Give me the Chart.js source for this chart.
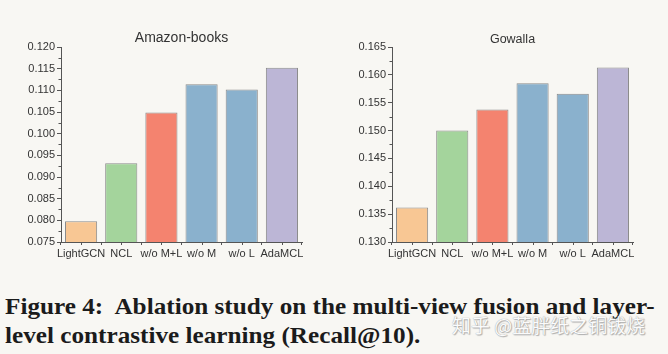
<!DOCTYPE html>
<html>
<head>
<meta charset="utf-8">
<script src="https://cdn.jsdelivr.net/npm/chart.js@4.4.1/dist/chart.umd.min.js"></script>
<style>
  html, body { margin: 0; padding: 0; background: #f8f7f3; }
  body { width: 668px; height: 354px; position: relative; overflow: hidden; }
  canvas { position: absolute; top: 0; }
  #amazon { left: 0; }
  #gowalla { left: 330px; }
  .caption {
    position: absolute; left: 5px; top: 292px;
    font-family: "Liberation Serif", "DejaVu Serif", serif;
    font-weight: bold; font-size: 24px; line-height: 29px;
    color: #1b1b1b; white-space: pre;
    transform: scaleX(1.05); transform-origin: left top;
  }
  .wm {
    position: absolute; left: 452px; top: 311px;
    font-family: "Noto Sans CJK SC", sans-serif; font-size: 19px;
    color: #fbfbfb; white-space: pre;
    text-shadow: 0 0 1px #8c8c8c, 1px 1px 1px #b0b0b0;
  }
</style>
</head>
<body>
<canvas id="amazon" width="320" height="275"></canvas>
<canvas id="gowalla" width="320" height="275"></canvas>
<div class="caption">Figure 4:  Ablation study on the multi-view fusion and layer-
level contrastive learning (Recall@10).</div>
<div class="wm">知乎 @蓝胖纸之铜钹烧</div>

<script>
// Données
const categories = ['LightGCN', 'NCL', 'w/o M+L', 'w/o M', 'w/o L', 'AdaMCL'];
const amazonRecall = [0.0798, 0.0932, 0.1049, 0.1114, 0.1102, 0.1152];
const gowallaRecall = [0.1362, 0.1500, 0.1538, 0.1585, 0.1566, 0.1613];
const amazonRange = [0.075, 0.120];
const gowallaRange = [0.130, 0.165];
const tickStep = 0.005;
const barColors = ['#f8c794', '#a4d49c', '#f4836f', '#8ab1cd', '#8ab1cd', '#bcb6d6'];

// Titre centré sur la zone du graphique + petites graduations
const panelExtras = {
  id: 'panelExtras',
  afterDraw(chart, args, opts) {
    const { ctx, chartArea, scales } = chart;
    ctx.save();
    ctx.fillStyle = '#333';
    ctx.font = opts.size + 'px "Liberation Sans", Arial, sans-serif';
    ctx.textAlign = 'center';
    ctx.textBaseline = 'middle';
    ctx.fillText(opts.text, (chartArea.left + chartArea.right) / 2, opts.y);

    ctx.strokeStyle = '#555';
    ctx.lineWidth = 1;
    ctx.beginPath();
    // graduations mineures sur l'axe Y
    const y = scales.y;
    for (let v = y.min + tickStep / 2; v < y.max; v += tickStep) {
      const py = Math.round(y.getPixelForValue(v)) + 0.5;
      ctx.moveTo(chartArea.left - 2.5, py);
      ctx.lineTo(chartArea.left, py);
    }
    // graduations au centre des barres
    const x = scales.x;
    categories.forEach((c, i) => {
      const px = Math.round(x.getPixelForValue(i)) + 0.5;
      ctx.moveTo(px, chartArea.bottom);
      ctx.lineTo(px, chartArea.bottom + 3);
    });
    ctx.stroke();
    ctx.restore();
  }
};

function makeChart(id, title, titleSize, titleY, values, range, yWidth, padRight) {
  const ctx = document.getElementById(id).getContext('2d');
  return new Chart(ctx, {
    type: 'bar',
    data: {
      labels: categories,
      datasets: [{
        data: values,
        backgroundColor: barColors,
        borderColor: '#8a8a8a',
        borderWidth: 1,
        categoryPercentage: 1,
        barPercentage: 0.8
      }]
    },
    options: {
      responsive: false,
      animation: false,
      layout: { padding: { top: 47, right: padRight, bottom: 5, left: 0 } },
      plugins: {
        legend: { display: false },
        tooltip: { enabled: false },
        panelExtras: { text: title, size: titleSize, y: titleY }
      },
      scales: {
        x: {
          afterFit(scale) { scale.height = 28; },
          border: { display: true, color: '#555', width: 1 },
          grid: { drawOnChartArea: false, drawTicks: true, tickLength: 3, color: '#555' },
          ticks: {
            autoSkip: false, maxRotation: 0, minRotation: 0, padding: 2,
            color: '#333', font: { family: '"Liberation Sans", Arial, sans-serif', size: 11 }
          }
        },
        y: {
          min: range[0],
          max: range[1],
          afterFit(scale) { scale.width = yWidth; },
          border: { display: true, color: '#555', width: 1 },
          grid: { drawOnChartArea: false, drawTicks: true, tickLength: 4, color: '#555' },
          ticks: {
            stepSize: tickStep, padding: 2,
            color: '#333', font: { family: '"Liberation Sans", Arial, sans-serif', size: 11 },
            callback: v => Number(v).toFixed(3)
          }
        }
      }
    },
    plugins: [panelExtras]
  });
}

makeChart('amazon', 'Amazon-books', 14, 38, amazonRecall, amazonRange, 61, 18);
makeChart('gowalla', 'Gowalla', 12.5, 40, gowallaRecall, gowallaRange, 62, 17);
</script>
</body>
</html>
